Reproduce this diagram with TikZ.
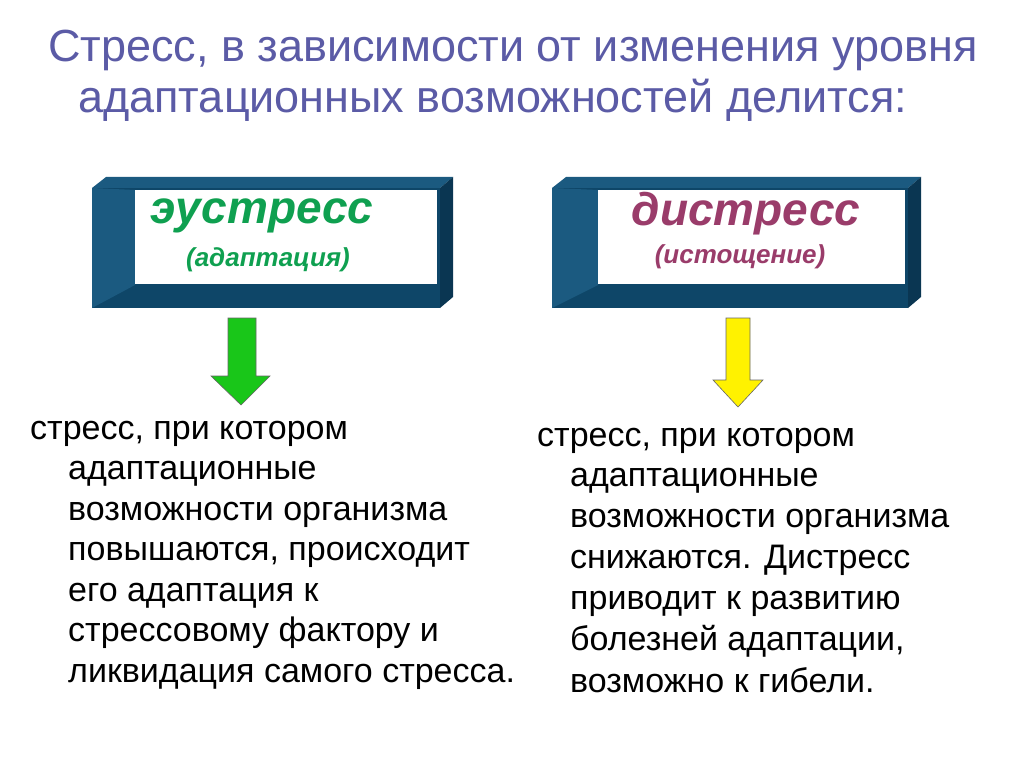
\documentclass[tikz,border=0pt]{standalone}
\usepackage{fontspec}
\setmainfont{Liberation Sans}
\begin{document}
\begin{tikzpicture}[x=1pt,y=-1pt,
  body/.style={anchor=base west,font=\fontsize{34}{40}\selectfont,inner sep=0pt},
  ttl/.style={anchor=base west,font=\fontsize{45}{50}\selectfont,text=titlec,inner sep=0pt}]
\definecolor{titlec}{HTML}{5B5BA6}
\definecolor{navy}{HTML}{0E4668}
\definecolor{navyl}{HTML}{1B5A80}
\definecolor{navyd}{HTML}{0A3652}
\definecolor{grn}{HTML}{0FA050}
\definecolor{plum}{HTML}{9A3C6A}
\useasboundingbox (0,0) rectangle (1024,767);
\fill[white] (0,0) rectangle (1024,767);
\node[ttl] (t1) at (48,62) {Стресс, в зависимости от изменения уровня};
\node[ttl] (t2) at (78,113) {адаптационных возможностей делится:};
% boxes
\foreach \x/\w/\iw in {92/348/43, 552/356/46}{
  \fill[navyl] (\x,188) -- (\x+14,177) -- (\x+\w+13,177) -- (\x+\w,188) -- cycle;
  \fill[navyd] (\x+\w,188) -- (\x+\w+13,177) -- (\x+\w+13,297) -- (\x+\w,308) -- cycle;
  \fill[navy] (\x,188) rectangle (\x+\w,308);
  \fill[navyl] (\x,188) -- (\x+\iw,190) -- (\x+\iw,285) -- (\x,308) -- cycle;
  \fill[white] (\x+\iw,190) rectangle (\x+\w-3,284);
}
\node[font=\fontsize{46}{50}\selectfont\bfseries\itshape,text=grn] (e1) at (262,216) {эустресс};
\node[font=\fontsize{26}{30}\selectfont\bfseries\itshape,text=grn] (e2) at (268,260) {(адаптация)};
\node[font=\fontsize{46}{50}\selectfont\bfseries\itshape,text=plum] (d1) at (746,214) {дистресс};
\node[font=\fontsize{26}{30}\selectfont\bfseries\itshape,text=plum] (d2) at (740,257) {(истощение)};
% arrows
\filldraw[draw=black!60,fill=green!75!black!90,line width=0.6pt] (228,318) -- (256,318) -- (256,376) -- (270,376) -- (241,405) -- (211,376) -- (228,376) -- cycle;
\filldraw[draw=black!60,fill=yellow,line width=0.6pt] (726,318) -- (750,318) -- (750,380) -- (763,380) -- (738,407) -- (713,380) -- (726,380) -- cycle;
% texts
\node[body] (l1) at (30,439) {стресс, при котором};
\node[body] (l2) at (68,479) {адаптационные};
\node[body] (l3) at (68,520) {возможности организма};
\node[body] (l4) at (68,560) {повышаются, происходит};
\node[body] (l5) at (68,601) {его адаптация к};
\node[body] (l6) at (68,641) {стрессовому фактору и};
\node[body] (l7) at (68,682) {ликвидация самого стресса.};
\node[body] (r1) at (537,446) {стресс, при котором};
\node[body] (r2) at (570,486) {адаптационные};
\node[body] (r3) at (570,527) {возможности организма};
\node[body] (r4) at (570,568) {снижаются. Дистресс};
\node[body] (r5) at (570,609) {приводит к развитию};
\node[body] (r6) at (570,650) {болезней адаптации,};
\node[body] (r7) at (570,692) {возможно к гибели.};
\end{tikzpicture}
\end{document}
